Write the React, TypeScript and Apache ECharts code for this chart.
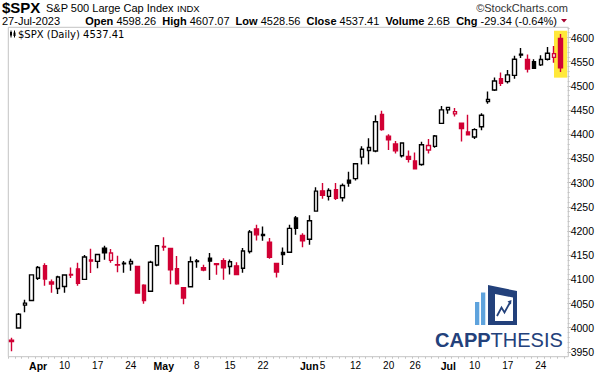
import React, { useEffect, useRef } from "react";
import * as echarts from "echarts";

const dates = [
  "2023-03-28","2023-03-29","2023-03-30","2023-03-31",
  "2023-04-03","2023-04-04","2023-04-05","2023-04-06","2023-04-10","2023-04-11","2023-04-12","2023-04-13","2023-04-14",
  "2023-04-17","2023-04-18","2023-04-19","2023-04-20","2023-04-21","2023-04-24","2023-04-25","2023-04-26","2023-04-27","2023-04-28",
  "2023-05-01","2023-05-02","2023-05-03","2023-05-04","2023-05-05","2023-05-08","2023-05-09","2023-05-10","2023-05-11","2023-05-12",
  "2023-05-15","2023-05-16","2023-05-17","2023-05-18","2023-05-19","2023-05-22","2023-05-23","2023-05-24","2023-05-25","2023-05-26",
  "2023-05-30","2023-05-31",
  "2023-06-01","2023-06-02","2023-06-05","2023-06-06","2023-06-07","2023-06-08","2023-06-09","2023-06-12","2023-06-13","2023-06-14",
  "2023-06-15","2023-06-16","2023-06-20","2023-06-21","2023-06-22","2023-06-23","2023-06-26","2023-06-27","2023-06-28","2023-06-29","2023-06-30",
  "2023-07-03","2023-07-05","2023-07-06","2023-07-07","2023-07-10","2023-07-11","2023-07-12","2023-07-13","2023-07-14",
  "2023-07-17","2023-07-18","2023-07-19","2023-07-20","2023-07-21","2023-07-24","2023-07-25","2023-07-26","2023-07-27",
];
const opens = [
  3974.13, 3999.53, 4046.74, 4056.18,
  4102.2, 4128.03, 4094.5, 4081.15, 4085.2, 4110.29, 4121.72, 4100.04, 4140.11,
  4137.17, 4164.26, 4139.33, 4130.48, 4132.14, 4132.07, 4126.43, 4087.78, 4075.29, 4129.63,
  4166.79, 4164.1, 4122.25, 4082.61, 4084.73, 4136.98, 4124.25, 4143.74, 4132.24, 4138.54,
  4126.65, 4127.95, 4122.85, 4157.68, 4204.15, 4190.78, 4176.8, 4132.96, 4155.71, 4156.16,
  4226.71, 4190.74,
  4183.03, 4241.01, 4282.99, 4271.61, 4285.47, 4268.69, 4304.88, 4308.32, 4352.61, 4366.29,
  4365.33, 4440.95, 4396.11, 4380.01, 4355.4, 4354.17, 4344.84, 4337.36, 4367.48, 4374.94, 4422.44,
  4450.48, 4442.04, 4422.62, 4404.54, 4394.23, 4415.55, 4467.69, 4491.5, 4514.61,
  4508.86, 4521.78, 4563.87, 4554.38, 4550.16, 4543.39, 4555.19, 4558.96, 4598.26,
];
const highs = [
  3979.2, 4030.59, 4057.85, 4110.75,
  4127.66, 4133.13, 4099.69, 4107.32, 4109.5, 4124.26, 4134.37, 4150.26, 4163.19,
  4151.72, 4169.48, 4162.57, 4148.57, 4138.02, 4142.41, 4126.43, 4089.67, 4138.24, 4170.06,
  4186.92, 4164.1, 4148.3, 4082.61, 4147.02, 4142.3, 4130.35, 4154.28, 4132.8, 4143.74,
  4141.25, 4135.54, 4164.67, 4202.2, 4212.91, 4209.22, 4185.68, 4132.96, 4165.74, 4212.87,
  4231.1, 4195.44,
  4232.43, 4290.67, 4299.28, 4288.33, 4299.19, 4298.01, 4322.62, 4340.13, 4375.37, 4391.82,
  4439.2, 4448.47, 4400.15, 4386.22, 4382.25, 4366.55, 4362.06, 4384.42, 4390.35, 4398.39, 4458.48,
  4456.46, 4454.06, 4422.62, 4440.39, 4412.6, 4443.64, 4488.34, 4517.38, 4527.76,
  4532.85, 4562.3, 4578.43, 4564.74, 4555.0, 4563.41, 4580.62, 4582.47, 4607.07,
];
const lows = [
  3951.53, 3999.53, 4032.1, 4056.18,
  4098.79, 4086.87, 4072.56, 4069.84, 4072.55, 4102.61, 4086.94, 4099.4, 4113.2,
  4123.18, 4140.36, 4134.49, 4114.57, 4113.86, 4117.77, 4071.38, 4049.35, 4075.29, 4127.18,
  4158.93, 4089.72, 4088.86, 4048.28, 4084.73, 4123.81, 4116.65, 4098.92, 4109.29, 4099.12,
  4110.27, 4109.86, 4113.62, 4153.5, 4180.2, 4179.68, 4142.54, 4103.98, 4129.73, 4156.16,
  4192.18, 4166.15,
  4171.64, 4241.01, 4266.82, 4263.09, 4263.96, 4261.07, 4291.7, 4304.37, 4337.54, 4337.85,
  4362.6, 4407.44, 4367.19, 4360.14, 4351.82, 4341.34, 4328.08, 4335.0, 4360.22, 4371.97, 4422.44,
  4442.29, 4436.61, 4385.05, 4397.4, 4389.92, 4408.46, 4463.23, 4489.36, 4499.56,
  4504.9, 4514.59, 4557.48, 4527.56, 4535.79, 4541.29, 4552.42, 4547.58, 4528.56,
];
const closes = [
  3971.27, 4027.81, 4050.83, 4109.31,
  4124.51, 4100.6, 4090.38, 4105.02, 4109.11, 4108.94, 4091.95, 4146.22, 4137.64,
  4151.32, 4154.87, 4154.52, 4129.79, 4133.52, 4137.04, 4071.63, 4055.99, 4135.35, 4169.48,
  4167.87, 4119.58, 4090.75, 4061.22, 4136.25, 4138.12, 4119.17, 4137.64, 4130.62, 4124.08,
  4136.28, 4109.9, 4158.77, 4198.05, 4191.98, 4192.63, 4145.58, 4115.24, 4151.28, 4205.45,
  4205.52, 4179.83,
  4221.02, 4282.37, 4273.79, 4283.85, 4267.52, 4293.93, 4298.86, 4338.93, 4369.01, 4372.59,
  4425.84, 4409.59, 4388.71, 4365.69, 4381.89, 4348.33, 4328.82, 4378.41, 4376.86, 4396.44, 4450.38,
  4455.59, 4446.82, 4411.59, 4398.95, 4409.53, 4439.26, 4472.16, 4510.04, 4505.42,
  4522.79, 4554.98, 4565.72, 4534.87, 4536.34, 4554.64, 4567.46, 4566.75, 4537.41,
];
const prevClose0 = 3977.53;
const volumeText = "2.6B";

const yTicks = [3950, 4000, 4050, 4100, 4150, 4200, 4250, 4300, 4350, 4400, 4450, 4500, 4550, 4600];
const yMin = 3940.1;
const yMax = 4621.1;
const xLabelDates = [
  "2023-04-03","2023-04-10","2023-04-17","2023-04-24","2023-05-01","2023-05-08","2023-05-15","2023-05-22",
  "2023-06-01","2023-06-05","2023-06-12","2023-06-20","2023-06-26","2023-07-03","2023-07-10","2023-07-17","2023-07-24",
];
const xLabelTexts = ["Apr","10","17","24","May","8","15","22","Jun","5","12","20","26","Jul","10","17","24"];
const monthLabels = ["Apr", "May", "Jun", "Jul"];
const highlightTop = 4614;
const highlightBottom = 4517;

const RED = "#d10034";
const BLACK = "#000000";
const FRAME = "#c4c4c4";
const FONT = "'Liberation Sans', Arial, sans-serif";
const NAVY = "#23417b";
const LIGHTBLUE = "#5ea3dd";

export default function App() {
  const ref = useRef<HTMLDivElement>(null);
  useEffect(() => {
    const el = ref.current;
    if (!el) return;
    const chart = echarts.init(el, null, { renderer: "svg", width: 597, height: 372 });

    const candles = dates.map((d, i) => {
      const prev = i === 0 ? prevClose0 : closes[i - 1];
      const col = closes[i] >= prev ? BLACK : RED;
      const hollow = closes[i] > opens[i];
      const fill = hollow ? "#ffffff" : col;
      return {
        value: [opens[i], closes[i], lows[i], highs[i]],
        itemStyle: { color: fill, color0: fill, borderColor: col, borderColor0: col, borderColorDoji: col },
      };
    });

    const minorTicks: number[] = [];
    for (let v = 3950; v <= 4620; v += 10) minorTicks.push(v);

    chart.setOption({
      animation: false,
      backgroundColor: "#ffffff",
      grid: { left: 8.4, right: 32.4, top: 27.3, bottom: 15.3, containLabel: false },
      xAxis: {
        type: "category",
        data: dates,
        boundaryGap: true,
        axisLine: { show: false },
        axisTick: { show: true, interval: 0, length: 2, lineStyle: { color: FRAME, width: 1 } },
        splitLine: { show: false },
        axisLabel: {
          interval: (_i: number, v: string) => xLabelDates.indexOf(v) >= 0,
          formatter: (v: string) => {
            const k = xLabelDates.indexOf(v);
            if (k < 0) return "";
            const t = xLabelTexts[k];
            return monthLabels.indexOf(t) >= 0 ? `{m|${t}}` : `{d|${t}}`;
          },
          margin: 4,
          rich: {
            m: { fontFamily: FONT, fontSize: 10.5, fontWeight: "bold", color: "#000" },
            d: { fontFamily: FONT, fontSize: 10, color: "#000" },
          },
        },
      },
      yAxis: [
        {
          type: "value",
          position: "right",
          min: yMin,
          max: yMax,
          offset: 3.7,
          axisLine: { show: false },
          splitLine: { show: false },
          axisTick: { show: true, length: 3, customValues: yTicks, lineStyle: { color: "#999" } },
          axisLabel: {
            customValues: yTicks,
            formatter: (v: number) => String(v),
            fontFamily: FONT,
            fontSize: 10.5,
            color: "#000",
            margin: 3,
          },
        },
        {
          type: "value",
          position: "right",
          min: yMin,
          max: yMax,
          offset: 3.7,
          axisLine: { show: false },
          splitLine: { show: false },
          axisLabel: { show: false },
          axisTick: { show: true, length: 2, customValues: minorTicks, lineStyle: { color: FRAME } },
        },
      ],
      series: [
        {
          type: "candlestick",
          z: 5,
          data: candles,
          barWidth: 4,
          itemStyle: { borderWidth: 1.4 },
        },
      ],
    });

    const n = dates.length;
    const xA = chart.convertToPixel({ xAxisIndex: 0 }, dates[n - 2]) as number;
    const xB = chart.convertToPixel({ xAxisIndex: 0 }, dates[n - 1]) as number;
    const band = xB - xA;
    const yT = chart.convertToPixel({ yAxisIndex: 0 }, highlightTop) as number;
    const yB = chart.convertToPixel({ yAxisIndex: 0 }, highlightBottom) as number;

    const last = n - 1;
    const chg = closes[last] - closes[last - 1];
    const pct = (chg / closes[last - 1]) * 100;

    const headerRow2 =
      `{b|Open }{n|${opens[last].toFixed(2)}  }` +
      `{b|High }{n|${highs[last].toFixed(2)}  }` +
      `{b|Low }{n|${lows[last].toFixed(2)}  }` +
      `{b|Close }{n|${closes[last].toFixed(2)}  }` +
      `{b|Volume }{n|${volumeText}  }` +
      `{b|Chg }{n|${chg.toFixed(2)} (${pct.toFixed(2)}%)}`;

    chart.setOption({
      graphic: [
        {
          type: "rect",
          z: 0,
          silent: true,
          shape: { x: xA, y: yT, width: band * 2, height: yB - yT },
          style: { fill: "#ffe83a" },
        },
        {
          type: "rect",
          z: 1,
          silent: true,
          shape: { x: 8.3, y: 27.3, width: 560, height: 329.4 },
          style: { fill: "none", stroke: FRAME, lineWidth: 1 },
        },
        {
          type: "text",
          z: 10,
          x: 2,
          y: 0,
          style: { text: "$SPX", font: `bold 15px ${FONT}`, fill: "#000", verticalAlign: "top" },
        },
        {
          type: "text",
          z: 10,
          x: 46,
          y: 13.5,
          style: { text: "S&P 500 Large Cap Index", font: `11px ${FONT}`, fill: "#000", verticalAlign: "bottom" },
        },
        {
          type: "text",
          z: 10,
          x: 177,
          y: 13.5,
          style: { text: "INDX", font: `9.5px ${FONT}`, fill: "#000", verticalAlign: "bottom" },
        },
        {
          type: "text",
          z: 10,
          x: 568,
          y: 13,
          style: { text: "©StockCharts.com", font: `11px ${FONT}`, fill: "#333", align: "right", verticalAlign: "bottom" },
        },
        {
          type: "text",
          z: 10,
          x: 2,
          y: 26,
          style: { text: "27-Jul-2023", font: `11px ${FONT}`, fill: "#000", verticalAlign: "bottom" },
        },
        {
          type: "text",
          z: 10,
          x: 557,
          y: 26,
          style: {
            text: headerRow2,
            align: "right",
            verticalAlign: "bottom",
            rich: {
              b: { font: `bold 11px ${FONT}`, fill: "#000" },
              n: { font: `11px ${FONT}`, fill: "#000" },
            },
          },
        },
        {
          type: "polygon",
          z: 10,
          shape: { points: [[561, 19], [567, 19], [564, 22.5]] },
          style: { fill: "#a8002e" },
        },
        {
          type: "group",
          z: 10,
          children: [
            { type: "line", shape: { x1: 11, y1: 30.5, x2: 11, y2: 37.5 }, style: { stroke: "#000", lineWidth: 1 } },
            { type: "rect", shape: { x: 10, y: 32, width: 2, height: 3.5 }, style: { fill: "#000" } },
            { type: "line", shape: { x1: 14.5, y1: 30.5, x2: 14.5, y2: 37.5 }, style: { stroke: "#000", lineWidth: 1 } },
            { type: "rect", shape: { x: 13.5, y: 32.5, width: 2, height: 3.5 }, style: { fill: "#000" } },
          ],
        },
        {
          type: "text",
          z: 10,
          x: 18,
          y: 34.5,
          style: { text: `$SPX (Daily) ${closes[last].toFixed(2)}`, font: `10px 'DejaVu Sans', sans-serif`, fill: "#000", verticalAlign: "middle" },
        },
        { type: "rect", z: 1, shape: { x: 475, y: 302, width: 4.3, height: 23 }, style: { fill: LIGHTBLUE } },
        { type: "rect", z: 1, shape: { x: 481, y: 292.5, width: 4.3, height: 32.5 }, style: { fill: LIGHTBLUE } },
        {
          type: "polygon",
          z: 1,
          shape: { points: [[488, 285], [517, 291], [517, 325], [488, 325]] },
          style: { fill: NAVY },
        },
        { type: "polygon", z: 1, shape: { points: [[495, 294], [513, 297.5], [513, 321], [495, 321]] }, style: { fill: "#ffffff" } },
        {
          type: "polyline",
          z: 1,
          shape: { points: [[497, 316], [501.5, 307.5], [504.5, 312.5], [510, 302.5]] },
          style: { stroke: NAVY, lineWidth: 1.8, fill: "none" },
        },
        { type: "polygon", z: 1, shape: { points: [[507.5, 301.5], [511.5, 300], [511, 304.5]] }, style: { fill: NAVY } },
        {
          type: "text",
          z: 1,
          x: 435,
          y: 339.5,
          style: {
            text: "{b|CAPP}{r|THESIS}",
            verticalAlign: "middle",
            rich: {
              b: { font: `bold 20px ${FONT}`, fill: NAVY },
              r: { font: `20px ${FONT}`, fill: NAVY },
            },
          },
        },
      ],
    });

    return () => {
      chart.dispose();
    };
  }, []);
  return (
    <div
      ref={ref}
      style={{ position: "fixed", left: 0, top: 0, width: 597, height: 372, background: "#fff" }}
    />
  );
}
